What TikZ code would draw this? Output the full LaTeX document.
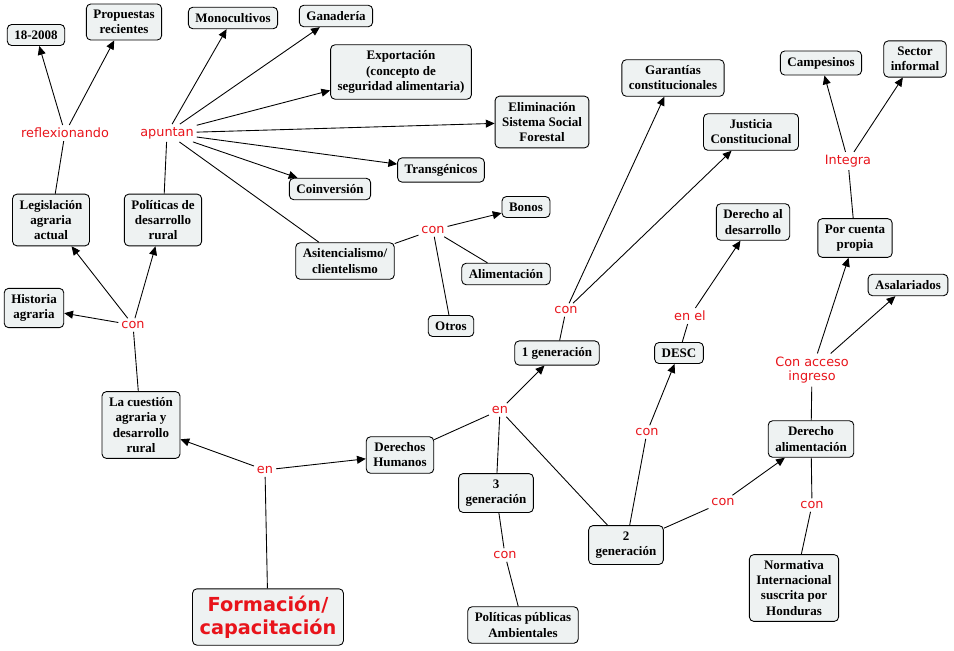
\documentclass[tikz,border=0pt]{standalone}
\usepackage{fontspec}
\setmainfont{Liberation Serif}
\newfontfamily\lsans{DejaVu Sans}
\usetikzlibrary{arrows.meta}
\definecolor{boxfill}{HTML}{EEF2F2}
\definecolor{lab}{HTML}{E8141B}
\begin{document}
\begin{tikzpicture}[x=0.02cm,y=-0.02cm,
 b/.style={draw,rounded corners=2.5pt,fill=boxfill,font=\bfseries\fontsize{7.4}{8.6}\selectfont,align=center,inner xsep=4pt,inner ysep=3.5pt},
 l/.style={text=lab,font=\lsans\fontsize{7.3}{8.4}\selectfont,align=center,inner sep=1.5pt,fill=white},
 a/.style={-{Triangle[length=5pt,width=4.5pt]}},
 line width=0.5pt]
\useasboundingbox (0,0) rectangle (954,650);
\node[b] (n18) at (36,35) {18-2008};
\node[b] (prop) at (124,22) {Propuestas\\recientes};
\node[b] (mono) at (233,18) {Monocultivos};
\node[b] (gan) at (336,16) {Ganadería};
\node[b] (exp) at (401,72) {Exportación\\(concepto de\\seguridad alimentaria)};
\node[b] (elim) at (542,122) {Eliminación\\Sistema Social\\Forestal};
\node[b] (trans) at (441,170) {Transgénicos};
\node[b] (coin) at (330,189) {Coinversión};
\node[b] (bonos) at (526,207) {Bonos};
\node[b] (asit) at (345,261) {Asitencialismo/\\clientelismo};
\node[b] (alim) at (506,274) {Alimentación};
\node[b] (otros) at (451,326) {Otros};
\node[b] (gar) at (673,78) {Garantías\\constitucionales};
\node[b] (just) at (751,132) {Justicia\\Constitucional};
\node[b] (dd) at (753,222) {Derecho al\\desarrollo};
\node[b] (camp) at (821,63) {Campesinos};
\node[b] (sect) at (915,59) {Sector\\informal};
\node[b] (pcp) at (855,238) {Por cuenta\\propia};
\node[b] (asal) at (908,285) {Asalariados};
\node[b] (leg) at (51,220) {Legislación\\agraria\\actual};
\node[b] (pdr) at (163,220) {Políticas de\\desarrollo\\rural};
\node[b] (hist) at (34,308) {Historia\\agraria};
\node[b] (cues) at (141,425) {La cuestión\\agraria y\\desarrollo\\rural};
\node[b] (dh) at (400,455) {Derechos\\Humanos};
\node[b] (g1) at (557,353) {1 generación};
\node[b] (desc) at (679,353) {DESC};
\node[b] (dalim) at (811,439) {Derecho\\alimentación};
\node[b] (g3) at (496,493) {3\\generación};
\node[b] (g2) at (626,545) {2\\generación};
\node[b] (norm) at (794,588) {Normativa\\Internacional\\suscrita por\\Honduras};
\node[b] (ppa) at (523,625) {Políticas públicas\\Ambientales};
\node[b,font=\lsans\bfseries\fontsize{11}{13}\selectfont,text=lab,inner sep=4pt] (form) at (268,617) {Formación/\\capacitación};
\node[l] (refl) at (65,133) {reflexionando};
\node[l] (apu) at (167,133) {apuntan};
\node[l] (con1) at (133,325) {con};
\node[l] (en1) at (265,470) {en};
\node[l] (en2) at (500,410) {en};
\node[l] (con2) at (433,230) {con};
\node[l] (con3) at (566,310) {con};
\node[l] (enel) at (690,316) {en el};
\node[l] (con4) at (647,432) {con};
\node[l] (con5) at (723,502) {con};
\node[l] (con6) at (505,555) {con};
\node[l] (acc) at (812,370) {Con acceso\\ingreso};
\node[l] (integ) at (848,161) {Integra};
\node[l] (con7) at (812,505) {con};
\draw (leg) -- (refl); \draw[a] (refl) -- (n18); \draw[a] (refl) -- (prop);
\draw (pdr) -- (apu);
\foreach \t in {mono,gan,exp,elim,trans,coin} \draw[a] (apu) -- (\t);
\draw (apu) -- (asit);
\draw (asit) -- (con2); \draw[a] (con2) -- (bonos); \draw (con2) -- (alim); \draw (con2) -- (otros);
\draw (cues) -- (con1); \draw[a] (con1) -- (hist); \draw[a] (con1) -- (leg); \draw[a] (con1) -- (pdr);
\draw (form) -- (en1); \draw[a] (en1) -- (cues); \draw[a] (en1) -- (dh);
\draw (dh) -- (en2); \draw[a] (en2) -- (g1); \draw (en2) -- (g3); \draw (en2) -- (g2);
\draw (g1) -- (con3); \draw[a] (con3) -- (gar); \draw[a] (con3) -- (just);
\draw (g2) -- (con4); \draw[a] (con4) -- (desc); \draw (desc) -- (enel); \draw[a] (enel) -- (dd);
\draw (g2) -- (con5); \draw[a] (con5) -- (dalim);
\draw (dalim) -- (acc); \draw[a] (acc) -- (pcp); \draw[a] (acc) -- (asal);
\draw (pcp) -- (integ); \draw[a] (integ) -- (camp); \draw[a] (integ) -- (sect);
\draw (dalim) -- (con7); \draw (con7) -- (norm);
\draw (g3) -- (con6); \draw (con6) -- (ppa);
\end{tikzpicture}
\end{document}
